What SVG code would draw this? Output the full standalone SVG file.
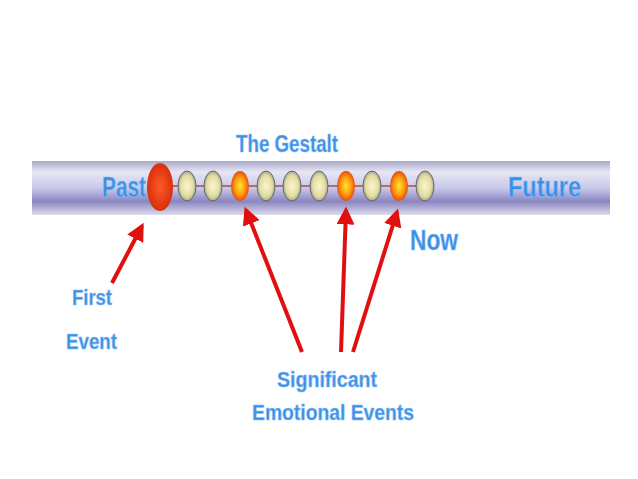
<svg xmlns="http://www.w3.org/2000/svg" width="638" height="479" viewBox="0 0 638 479">
<defs>
<linearGradient id="bar" x1="0" y1="0" x2="0" y2="1">
<stop offset="0" stop-color="#a9a9c9"/><stop offset="0.2" stop-color="#e6e6f4"/><stop offset="0.5" stop-color="#c9c9ea"/><stop offset="0.75" stop-color="#8a86c0"/><stop offset="1" stop-color="#dcdcec"/>
</linearGradient>
<radialGradient id="pale"><stop offset="0" stop-color="#fbf6c8"/><stop offset="0.7" stop-color="#e2dca6"/><stop offset="1" stop-color="#a9a78a"/></radialGradient>
<radialGradient id="hot"><stop offset="0" stop-color="#ffe830"/><stop offset="0.6" stop-color="#ff9a10"/><stop offset="1" stop-color="#e84a10"/></radialGradient>
<radialGradient id="red"><stop offset="0" stop-color="#ff5a2a"/><stop offset="1" stop-color="#d8300a"/></radialGradient>
<marker id="ah" viewBox="0 0 10 10" refX="8" refY="5" markerWidth="4.5" markerHeight="4.5" orient="auto"><path d="M0,0 L10,5 L0,10 z" fill="#e01010"/></marker>
<style>
.t{font-family:"Liberation Sans",sans-serif;font-weight:bold;fill:#3b8fe8;stroke:#8fc3f5;stroke-width:0.6}
.b{stroke:#666;stroke-width:1}
.a{stroke:#e01010;stroke-width:4;fill:none;marker-end:url(#ah)}
</style>
</defs>
<rect x="32" y="161" width="578" height="54" fill="url(#bar)"/>
<line x1="150" y1="186" x2="430" y2="186" stroke="#b07070" stroke-width="2"/>
<g id="past"><text class="t" x="102" y="197" font-size="30" textLength="44" lengthAdjust="spacingAndGlyphs">Past</text></g>
<g id="future"><text class="t" x="508" y="197" font-size="30" textLength="73" lengthAdjust="spacingAndGlyphs">Future</text></g>
<g id="gestalt"><text class="t" x="236" y="152" font-size="24" textLength="102" lengthAdjust="spacingAndGlyphs">The Gestalt</text></g>
<g id="now"><text class="t" x="410" y="250" font-size="30" textLength="48" lengthAdjust="spacingAndGlyphs">Now</text></g>
<g id="first"><text class="t" x="72" y="305" font-size="22" textLength="40" lengthAdjust="spacingAndGlyphs">First</text><text class="t" x="66" y="349" font-size="22" textLength="51" lengthAdjust="spacingAndGlyphs">Event</text></g>
<g id="sig"><text class="t" x="277" y="387" font-size="22" textLength="100" lengthAdjust="spacingAndGlyphs">Significant</text><text class="t" x="252" y="420" font-size="22" textLength="162" lengthAdjust="spacingAndGlyphs">Emotional Events</text></g>
<g id="beads">
<ellipse cx="160" cy="187" rx="13" ry="24" fill="url(#red)"/>
<ellipse cx="187" cy="186" rx="9" ry="15" fill="url(#pale)" class="b"/>
<ellipse cx="213" cy="186" rx="9" ry="15" fill="url(#pale)" class="b"/>
<ellipse cx="240" cy="186" rx="9" ry="15" fill="url(#hot)"/>
<ellipse cx="266" cy="186" rx="9" ry="15" fill="url(#pale)" class="b"/>
<ellipse cx="292" cy="186" rx="9" ry="15" fill="url(#pale)" class="b"/>
<ellipse cx="319" cy="186" rx="9" ry="15" fill="url(#pale)" class="b"/>
<ellipse cx="346" cy="186" rx="9" ry="15" fill="url(#hot)"/>
<ellipse cx="372" cy="186" rx="9" ry="15" fill="url(#pale)" class="b"/>
<ellipse cx="399" cy="186" rx="9" ry="15" fill="url(#hot)"/>
<ellipse cx="425" cy="186" rx="9" ry="15" fill="url(#pale)" class="b"/>
</g>
<g id="connectors">
<line class="a" x1="112" y1="283" x2="142" y2="226"/>
<line class="a" x1="302" y1="352" x2="246" y2="210"/>
<line class="a" x1="341" y1="352" x2="346" y2="210"/>
<line class="a" x1="353" y1="352" x2="397" y2="212"/>
</g>
</svg>
